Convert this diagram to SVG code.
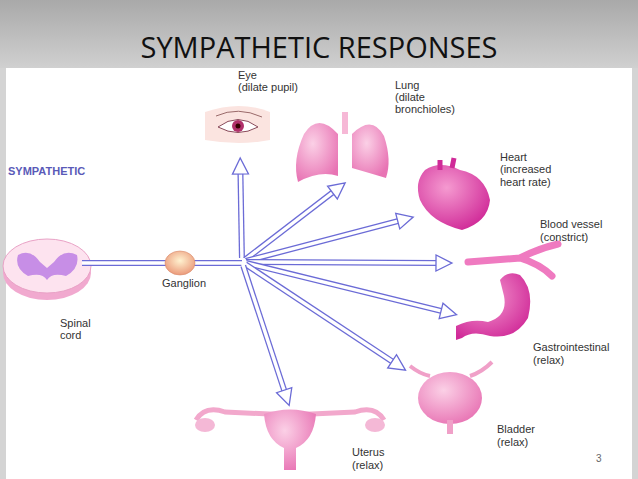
<svg xmlns="http://www.w3.org/2000/svg" width="638" height="479" viewBox="0 0 638 479">
<defs>
<linearGradient id="hdr" x1="0" y1="0" x2="0" y2="1"><stop offset="0" stop-color="#a9a9a9"/><stop offset="1" stop-color="#d0d0d0"/></linearGradient>
<radialGradient id="gang" cx="0.5" cy="0.4" r="0.6"><stop offset="0" stop-color="#fff2d0"/><stop offset="1" stop-color="#eb9a7a"/></radialGradient>
<radialGradient id="pk" cx="0.4" cy="0.35" r="0.7"><stop offset="0" stop-color="#fbd0e6"/><stop offset="1" stop-color="#e874b4"/></radialGradient>
<radialGradient id="mg" cx="0.4" cy="0.35" r="0.7"><stop offset="0" stop-color="#f59ad0"/><stop offset="1" stop-color="#d02a98"/></radialGradient>
</defs>
<style>
.t{font-family:"Liberation Sans",Arial,sans-serif;font-size:11px;fill:#333}
.so{stroke:#6b6bd6;stroke-width:6;fill:none}
.si{stroke:#fff;stroke-width:3.4;fill:none}
.hd{fill:#fff;stroke:#6b6bd6;stroke-width:1.3}
</style>
<rect x="0" y="0" width="638" height="479" fill="#d4d4d4"/>
<rect x="0" y="0" width="638" height="68" fill="url(#hdr)"/>
<rect x="6" y="68" width="626" height="411" fill="#fff"/>
<text x="319" y="58" text-anchor="middle" font-family="'Open Sans','Liberation Sans',sans-serif" font-size="29" fill="#111">SYMPATHETIC RESPONSES</text>

<g id="spinal-cord">
<ellipse cx="47" cy="273" rx="44" ry="27" fill="#f1a9cf"/>
<ellipse cx="47" cy="266" rx="44" ry="27" fill="#fde3ef" stroke="#e9a2c6"/>
<path d="M18 255 Q30 248 40 262 L47 268 L54 262 Q64 248 77 255 Q80 268 66 276 Q52 272 47 280 Q42 272 28 276 Q14 268 18 255Z" fill="#c78ee6"/>
</g>
<g id="connectors">
<line x1="82" y1="263" x2="242" y2="263" class="so"/><line x1="82" y1="263" x2="242" y2="263" class="si"/>
<g transform="translate(242,262) rotate(-91)"><line x1="4" y1="0" x2="90" y2="0" class="so"/><line x1="2" y1="0" x2="91" y2="0" class="si"/><polygon points="104,0 88,-8 88,8" class="hd"/></g>
<g transform="translate(242,262) rotate(-37.5)"><line x1="4" y1="0" x2="116" y2="0" class="so"/><line x1="2" y1="0" x2="117" y2="0" class="si"/><polygon points="130,0 114,-8 114,8" class="hd"/></g>
<g transform="translate(242,262) rotate(-14.7)"><line x1="4" y1="0" x2="163" y2="0" class="so"/><line x1="2" y1="0" x2="164" y2="0" class="si"/><polygon points="177,0 161,-8 161,8" class="hd"/></g>
<g transform="translate(242,262) rotate(0.3)"><line x1="4" y1="0" x2="196" y2="0" class="so"/><line x1="2" y1="0" x2="197" y2="0" class="si"/><polygon points="210,0 194,-8 194,8" class="hd"/></g>
<g transform="translate(242,262) rotate(13.8)"><line x1="4" y1="0" x2="207" y2="0" class="so"/><line x1="2" y1="0" x2="208" y2="0" class="si"/><polygon points="221,0 205,-8 205,8" class="hd"/></g>
<g transform="translate(242,262) rotate(33.5)"><line x1="4" y1="0" x2="182" y2="0" class="so"/><line x1="2" y1="0" x2="183" y2="0" class="si"/><polygon points="196,0 180,-8 180,8" class="hd"/></g>
<g transform="translate(242,262) rotate(71.8)"><line x1="4" y1="0" x2="137" y2="0" class="so"/><line x1="2" y1="0" x2="138" y2="0" class="si"/><polygon points="151,0 135,-8 135,8" class="hd"/></g>
</g>
<g id="ganglion"><ellipse cx="180" cy="263" rx="15" ry="12" fill="url(#gang)" stroke="#d88a6a" stroke-width="0.6"/><text class="t" x="162" y="287">Ganglion</text></g>
<text x="8" y="175" font-family="'Liberation Sans',Arial,sans-serif" font-size="11" font-weight="bold" fill="#5a5ab8">SYMPATHETIC</text>
<text class="t" x="60" y="327">Spinal</text><text class="t" x="60" y="339">cord</text>

<g id="eye">
<path d="M205 112 Q240 100 270 112 L270 140 Q240 146 205 140Z" fill="#fbe4e0"/>
<path d="M218 127 Q238 112 258 127 Q238 138 218 127Z" fill="#fff" stroke="#8a4a5a"/>
<circle cx="238" cy="126" r="6" fill="#b0306a"/><circle cx="238" cy="126" r="2.5" fill="#300"/>
<path d="M216 116 Q238 106 262 117" stroke="#9a6a6a" fill="none"/>
<text class="t" x="238" y="79">Eye</text><text class="t" x="238" y="91">(dilate pupil)</text>
</g>
<g id="lung">
<rect x="342" y="112" width="6" height="22" fill="#f6b8d6"/>
<path d="M338 134 Q318 112 304 134 Q292 160 298 182 Q320 170 338 176Z" fill="url(#pk)"/>
<path d="M352 134 Q372 114 384 136 Q392 160 386 178 Q366 172 352 168Z" fill="url(#pk)"/>
<text class="t" x="395" y="89">Lung</text><text class="t" x="395" y="101">(dilate</text><text class="t" x="395" y="113">bronchioles)</text>
</g>
<g id="heart">
<path d="M425 170 Q440 160 460 170 Q485 175 490 200 Q488 222 462 230 Q430 222 420 200 Q414 182 425 170Z" fill="url(#mg)"/>
<path d="M440 170 L440 160 M452 168 L454 158" stroke="#d02a98" stroke-width="5"/>
<text class="t" x="500" y="161">Heart</text><text class="t" x="500" y="173">(increased</text><text class="t" x="500" y="186">heart rate)</text>
</g>
<g id="vessel">
<path d="M468 262 L520 258 Q540 248 558 244 M520 258 Q540 264 552 276" stroke="#ef7ac0" stroke-width="7" fill="none" stroke-linecap="round"/>
<text class="t" x="540" y="228">Blood vessel</text><text class="t" x="540" y="241">(constrict)</text>
</g>
<g id="gi">
<path d="M500 280 Q508 270 520 275 Q535 290 528 318 Q515 340 490 336 Q472 330 462 338 L456 340 L456 326 Q472 318 488 322 Q508 316 504 296Z" fill="url(#mg)"/>
<text class="t" x="533" y="351">Gastrointestinal</text><text class="t" x="533" y="364">(relax)</text>
</g>
<g id="bladder">
<path d="M410 366 Q420 374 430 376 M470 376 Q482 372 492 362" stroke="#f0a0c8" stroke-width="4" fill="none"/>
<ellipse cx="450" cy="398" rx="32" ry="26" fill="url(#pk)"/>
<rect x="447" y="420" width="6" height="14" fill="#f0a0c8"/>
<text class="t" x="497" y="433">Bladder</text><text class="t" x="497" y="446">(relax)</text>
</g>
<g id="uterus">
<path d="M196 420 Q205 405 225 412 L290 415 L355 412 Q375 405 384 420" stroke="#f2a8cc" stroke-width="5" fill="none"/>
<path d="M264 414 Q290 405 316 414 Q314 440 296 448 L296 470 L284 470 L284 448 Q266 440 264 414Z" fill="url(#pk)"/>
<ellipse cx="205" cy="425" rx="10" ry="7" fill="#f4b8d6"/><ellipse cx="375" cy="425" rx="10" ry="7" fill="#f4b8d6"/>
<text class="t" x="352" y="456">Uterus</text><text class="t" x="352" y="469">(relax)</text>
</g>
<text x="596" y="462" font-family="'Liberation Sans',Arial,sans-serif" font-size="10" fill="#666">3</text>
</svg>
